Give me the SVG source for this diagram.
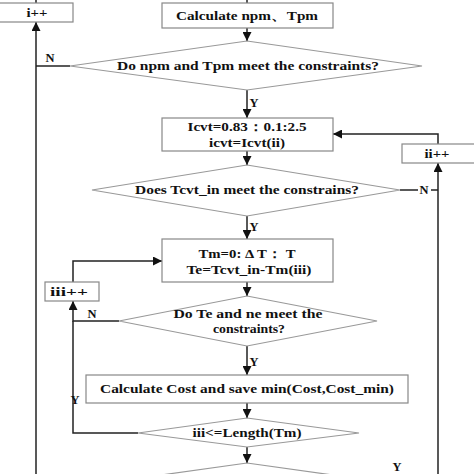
<svg xmlns="http://www.w3.org/2000/svg" width="474" height="474" viewBox="0 0 474 474">
<defs>
<marker id="ah" viewBox="0 0 10 10" refX="10" refY="5" markerWidth="9" markerHeight="9" markerUnits="userSpaceOnUse" orient="auto">
<path d="M0,0 L10,5 L0,10 Z" fill="#111"/>
</marker>
<style>
.box{fill:#fff;stroke:#888;stroke-width:1.2}
.dia{fill:#fff;stroke:#999;stroke-width:1.2}
.c{fill:none;stroke:#222;stroke-width:1.5}
.ca{fill:none;stroke:#222;stroke-width:1.5;marker-end:url(#ah)}
.t{font-family:"Liberation Serif","Times New Roman",serif;font-weight:bold;font-size:12.5px;fill:#111;text-anchor:middle}
.l{font-family:"Liberation Serif","Times New Roman",serif;font-weight:bold;font-size:12.5px;fill:#111;text-anchor:middle}
</style>
</defs>
<rect width="474" height="474" fill="#fff"/>
<g id="connectors">
<line class="c" x1="247" y1="0" x2="247" y2="3"/>
<line class="ca" x1="247" y1="28" x2="247" y2="41"/>
<polyline class="c" points="70,66 36,66"/>
<line class="ca" x1="36" y1="474" x2="36" y2="22"/>
<line class="c" x1="36" y1="3" x2="36" y2="0"/>
<line class="ca" x1="247" y1="90" x2="247" y2="118"/>
<line class="ca" x1="247" y1="151" x2="247" y2="165"/>
<line class="c" x1="400" y1="190" x2="438" y2="190"/>
<line class="ca" x1="438" y1="474" x2="438" y2="163"/>
<polyline class="ca" points="438,144 438,134 333,134"/>
<line class="ca" x1="247" y1="216" x2="247" y2="239"/>
<line class="ca" x1="247" y1="282" x2="247" y2="296"/>
<polyline class="ca" points="119,321 73,321 73,301"/>
<polyline class="ca" points="73,282 73,261 162,261"/>
<polyline class="c" points="138,433 73,433 73,321"/>
<line class="ca" x1="247" y1="346" x2="247" y2="375"/>
<line class="ca" x1="247" y1="403" x2="247" y2="418"/>
<line class="ca" x1="247" y1="447" x2="247" y2="463"/>
</g>
<g id="n-ipp"><rect class="box" x="-1" y="3" width="74" height="19"/><text class="t" x="37" y="17" textLength="21" lengthAdjust="spacingAndGlyphs">i++</text></g>
<g id="n-calc-npm"><rect class="box" x="162" y="3" width="171" height="25"/><text class="t" x="247" y="20" textLength="142" lengthAdjust="spacingAndGlyphs">Calculate npm、Tpm</text></g>
<g id="n-dia1"><polygon class="dia" points="247,41 422,66 247,90 70,66"/><text class="t" x="248" y="70" textLength="262" lengthAdjust="spacingAndGlyphs">Do npm and Tpm meet the constraints?</text></g>
<g id="n-icvt"><rect class="box" x="162" y="118" width="171" height="33"/><text class="t" x="247" y="131" textLength="119" lengthAdjust="spacingAndGlyphs">Icvt=0.83：0.1:2.5</text><text class="t" x="247" y="147" textLength="76" lengthAdjust="spacingAndGlyphs">icvt=Icvt(ii)</text></g>
<g id="n-iipp"><rect class="box" x="402" y="144" width="74" height="19"/><text class="t" x="437" y="158" textLength="25" lengthAdjust="spacingAndGlyphs">ii++</text></g>
<g id="n-dia2"><polygon class="dia" points="247,165 400,190 247,216 92,190"/><text class="t" x="247" y="194" textLength="224" lengthAdjust="spacingAndGlyphs">Does Tcvt_in meet the constrains?</text></g>
<g id="n-tm"><rect class="box" x="162" y="239" width="171" height="43"/><text class="t" x="247" y="258" textLength="97" lengthAdjust="spacingAndGlyphs">Tm=0: Δ T：  T</text><text class="t" x="249" y="274" textLength="125" lengthAdjust="spacingAndGlyphs">Te=Tcvt_in-Tm(iii)</text></g>
<g id="n-iiipp"><rect class="box" x="45" y="282" width="54" height="19"/><text class="t" x="69" y="296" textLength="38" lengthAdjust="spacingAndGlyphs">iii++</text></g>
<g id="n-dia3"><polygon class="dia" points="247,296 377,321 247,346 119,321"/><text class="t" x="248" y="318" textLength="149" lengthAdjust="spacingAndGlyphs">Do Te and ne meet the</text><text class="t" x="249" y="333" textLength="72" lengthAdjust="spacingAndGlyphs">constraints?</text></g>
<g id="n-cost"><rect class="box" x="86" y="375" width="322" height="28"/><text class="t" x="247" y="393" textLength="294" lengthAdjust="spacingAndGlyphs">Calculate Cost and save min(Cost,Cost_min)</text></g>
<g id="n-dia4"><polygon class="dia" points="247,418 359,433 247,447 138,433"/><text class="t" x="247" y="437" textLength="109" lengthAdjust="spacingAndGlyphs">iii&lt;=Length(Tm)</text></g>
<g id="n-dia5"><polygon class="dia" points="247,463 397,484 247,505 97,484"/></g>
<g id="labels">
<text class="l" x="50" y="62">N</text>
<text class="l" x="254" y="107">Y</text>
<rect x="418" y="184" width="13" height="12" fill="#fff"/>
<text class="l" x="424" y="194">N</text>
<text class="l" x="254" y="231">Y</text>
<text class="l" x="92" y="318">N</text>
<text class="l" x="254" y="366">Y</text>
<text class="l" x="75" y="404">Y</text>
<text class="l" x="397" y="471">Y</text>
</g>
</svg>
